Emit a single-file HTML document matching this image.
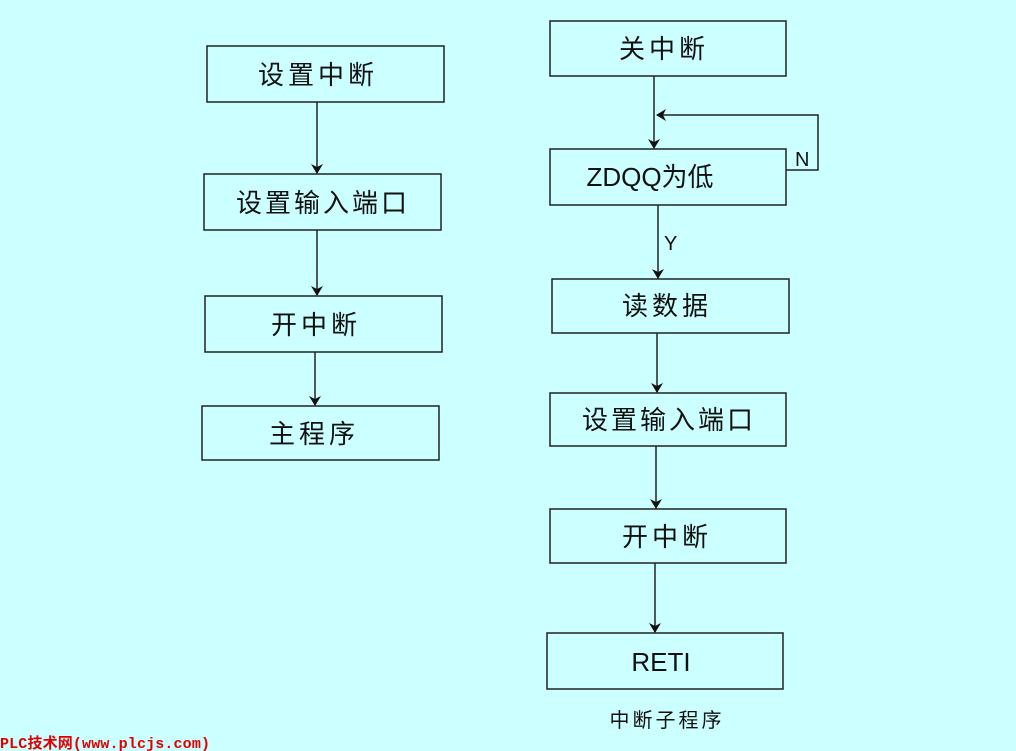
<!DOCTYPE html>
<html><head><meta charset="utf-8"><style>
html,body{margin:0;padding:0;background:#ccffff;}
svg{display:block;}
text{font-family:"Liberation Sans","Noto Sans CJK SC",sans-serif;fill:#111;}
</style></head><body>
<svg width="1016" height="751" viewBox="0 0 1016 751">
<rect width="1016" height="751" fill="#ccffff"/>
<defs><marker id="a" markerWidth="10" markerHeight="12" refX="9" refY="6" orient="auto" markerUnits="userSpaceOnUse"><path d="M0,0 L10,6 L0,12 L3,6 Z" fill="#111"/></marker></defs>
<g fill="none" stroke="#222" stroke-width="1.5">
<rect x="207" y="46" width="237" height="56"/>
<rect x="204" y="174" width="237" height="56"/>
<rect x="205" y="296" width="237" height="56"/>
<rect x="202" y="406" width="237" height="54"/>
<rect x="550" y="21" width="236" height="55"/>
<rect x="550" y="149" width="236" height="56"/>
<rect x="552" y="279" width="237" height="54"/>
<rect x="550" y="393" width="236" height="53"/>
<rect x="550" y="509" width="236" height="54"/>
<rect x="547" y="633" width="236" height="56"/>
<g marker-end="url(#a)">
<line x1="317" y1="102" x2="317" y2="173"/>
<line x1="317" y1="230" x2="317" y2="295"/>
<line x1="315" y1="352" x2="315" y2="405"/>
<line x1="654" y1="76" x2="654" y2="148"/>
<polyline points="786,170 818,170 818,115 657,115"/>
<line x1="658" y1="205" x2="658" y2="278"/>
<line x1="657" y1="333" x2="657" y2="392"/>
<line x1="656" y1="446" x2="656" y2="508"/>
<line x1="655" y1="563" x2="655" y2="632"/>
</g></g>
<g font-size="26" text-anchor="middle">
<text x="318" y="84" letter-spacing="4">设置中断</text>
<text x="323" y="212" letter-spacing="3">设置输入端口</text>
<text x="316" y="334" letter-spacing="4">开中断</text>
<text x="314" y="443" letter-spacing="4">主程序</text>
<text x="664" y="58" letter-spacing="4">关中断</text>
<text x="650" y="186">ZDQQ为低</text>
<text x="667" y="315" letter-spacing="4">读数据</text>
<text x="669" y="429" letter-spacing="3">设置输入端口</text>
<text x="667" y="546" letter-spacing="4">开中断</text>
<text x="661" y="671">RETI</text>
</g>
<text x="795" y="166" font-size="20">N</text>
<text x="664" y="250" font-size="20">Y</text>
<text x="667" y="727" font-size="20" text-anchor="middle" letter-spacing="3">中断子程序</text>
<text x="0" y="748" font-size="15" font-weight="bold" textLength="210" style="fill:#e00000;font-family:'Liberation Mono','Noto Sans CJK SC',monospace">PLC技术网(www.plcjs.com)</text>
</svg>
</body></html>
